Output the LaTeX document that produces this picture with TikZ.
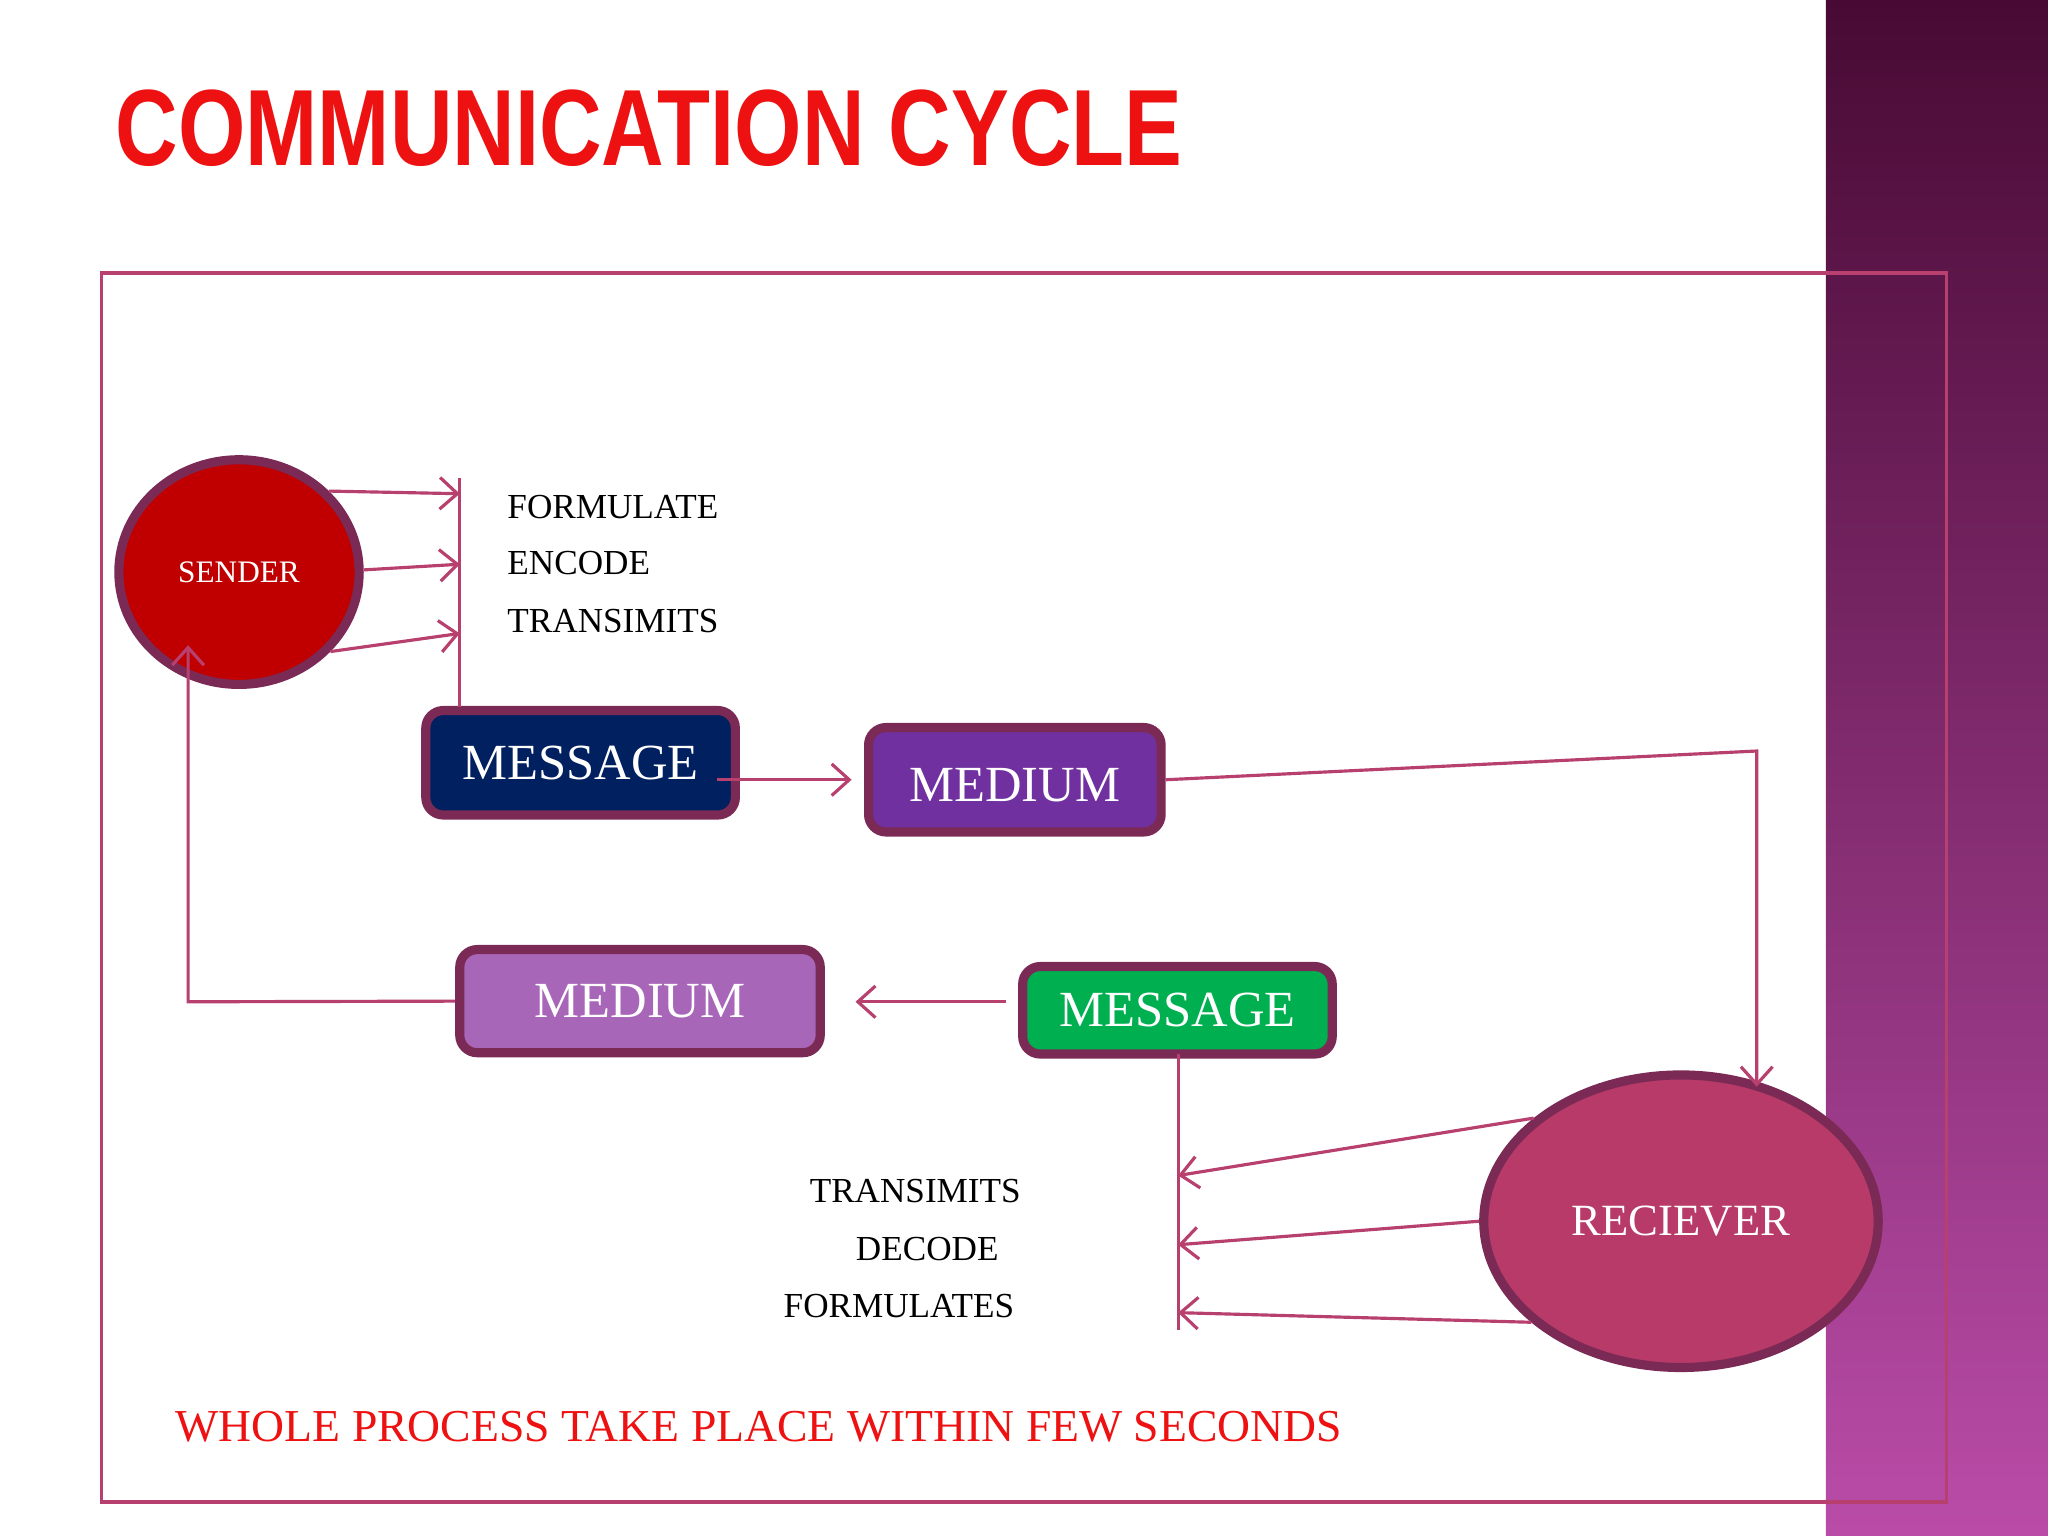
\documentclass[tikz,border=0pt]{standalone}
\usepackage{fontspec}
\setmainfont{Liberation Serif}
\newfontfamily\titlefont{Liberation Sans}
\usetikzlibrary{arrows.meta,shapes.geometric}
\definecolor{frm}{HTML}{B8406E}
\definecolor{bord}{HTML}{7A2A55}
\definecolor{ttl}{HTML}{EE1111}
\begin{document}
\begin{tikzpicture}[x=0.01306cm,y=-0.01306cm,
  ln/.style={frm, line width=0.9pt},
  arr/.style={ln, -{Straight Barb[length=5pt,width=9pt]}},
  box/.style={draw=bord, line width=2.6pt, rounded corners=5pt, text=white, font=\fontsize{14.4}{16}\selectfont, inner sep=0pt},
  ell/.style={ellipse, draw=bord, line width=2.6pt, text=white, inner sep=0pt},
  lab/.style={font=\fontsize{10}{12}\selectfont, inner sep=0pt}]
\useasboundingbox (0,0) rectangle (1568,1176);
\fill[white] (0,0) rectangle (1568,1176);
\shade[top color={rgb,255:red,72;green,10;blue,52}, bottom color={rgb,255:red,186;green,76;blue,168}] (1398,0) rectangle (1568,1176);
\node[anchor=south west, inner sep=0pt, text=ttl] (title) at (88,128) {\resizebox{10.67cm}{0.757cm}{\titlefont\bfseries COMMUNICATION CYCLE}};
\draw[ln] (78,209) rectangle (1490,1150);
% nodes
\node[ell, fill={rgb,255:red,192;green,0;blue,0}, minimum width={184*0.01306cm}, minimum height={172*0.01306cm}, font=\fontsize{8.9}{10}\selectfont] (sender) at (183,438) {SENDER};
\node[ell, fill={rgb,255:red,184;green,58;blue,104}, minimum width={302*0.01306cm}, minimum height={224*0.01306cm}, font=\fontsize{12.7}{14}\selectfont] (rec) at (1287,935) {RECIEVER};
\node[box, fill={rgb,255:red,0;green,32;blue,96}, minimum width={237*0.01306cm}, minimum height={80*0.01306cm}] (msg1) at (444.5,584) {MESSAGE};
\node[box, fill={rgb,255:red,112;green,48;blue,160}, minimum width={224*0.01306cm}, minimum height={80*0.01306cm}, text depth=0pt] (med1) at (777,597) {\raisebox{-3pt}{MEDIUM}};
\node[box, fill={rgb,255:red,0;green,176;blue,80}, minimum width={237*0.01306cm}, minimum height={67*0.01306cm}] (msg2) at (901.5,773.5) {MESSAGE};
\node[box, fill={rgb,255:red,168;green,102;blue,184}, minimum width={276*0.01306cm}, minimum height={79*0.01306cm}] (med2) at (490,766.5) {MEDIUM};
% labels
\node[lab, anchor=base west] (f1) at (388,397) {FORMULATE};
\node[lab, anchor=base west] (e1) at (388,440) {ENCODE};
\node[lab, anchor=base west] (t1) at (388,484) {TRANSIMITS};
\node[lab, anchor=base east] (t2) at (782,921) {TRANSIMITS};
\node[lab, anchor=base east] (d2) at (765,965) {DECODE};
\node[lab, anchor=base east] (f2) at (777,1009) {FORMULATES};
\node[anchor=base west, inner sep=0pt, text=ttl, font=\fontsize{13}{15}\selectfont] (note) at (134,1104) {WHOLE PROCESS TAKE PLACE WITHIN FEW SECONDS};
% sender side
\coordinate (v1) at (352,366);
\coordinate (a1) at (352,378);
\coordinate (a2) at (352,432);
\coordinate (a3) at (352,485);
\draw[ln] (v1) -- (352,541);
\draw[arr] (sender.42) -- (a1);
\draw[arr] (sender.1) -- (a2);
\draw[arr] (sender.-41) -- (a3);
\coordinate (m1) at (549,597);
\coordinate (m2) at (652,597);
\draw[arr] (m1) -- (m2);
\coordinate (c1) at (1345,575);
\coordinate (c2) at (1345,832);
\draw[arr] (med1.east) -- (c1) -- (c2);
\coordinate (g1) at (770,767);
\coordinate (g2) at (655,767);
\draw[arr] (g1) -- (g2);
\coordinate (s1) at (144,767);
\coordinate (s2) at (144,494);
\draw[arr] (med2.west) -- (s1) -- (s2);
% receiver side
\coordinate (r0) at (902,807);
\coordinate (r1) at (902,900);
\coordinate (r2) at (902,953);
\coordinate (r3) at (902,1005);
\draw[ln] (r0) -- (902,1018);
\draw[arr] (rec.145) -- (r1);
\draw[arr] (rec.180) -- (r2);
\draw[arr] (rec.214) -- (r3);
\end{tikzpicture}
\end{document}
